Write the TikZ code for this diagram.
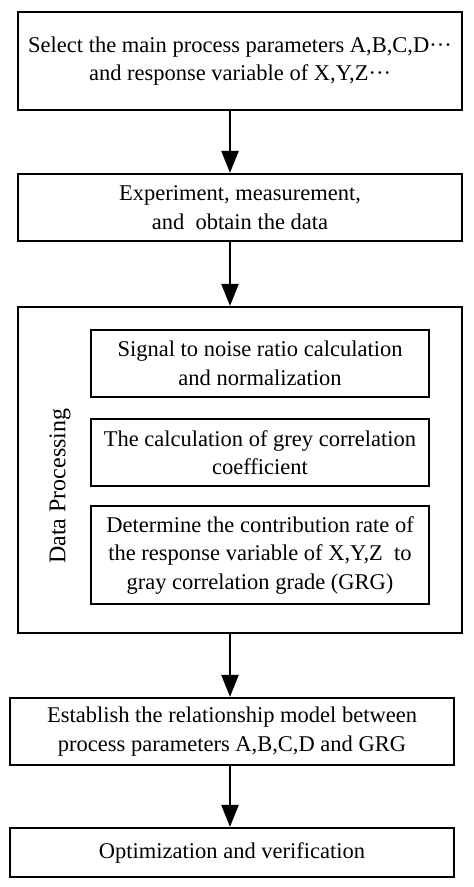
\documentclass[tikz,border=0pt]{standalone}
\usepackage{fontspec}
\setmainfont{Liberation Serif}
\usetikzlibrary{arrows.meta}
\begin{document}
\begin{tikzpicture}[x=1pt,y=-1pt,
  box/.style={draw,line width=2.2pt,align=center,inner sep=0pt,
    font=\fontsize{22.5}{28.5}\selectfont},
  inbox/.style={box,line width=2pt},
  arr/.style={line width=2.4pt,-{Triangle[length=22pt,width=17pt]}}]
\useasboundingbox (0,0) rectangle (474,887);
\node[box,minimum width=444pt,minimum height=98pt] (b1) at (240,61)
  {Select the main process parameters A,B,C,D···\\and response variable of X,Y,Z···};
\node[box,minimum width=444pt,minimum height=67pt] (b2) at (240,207.5)
  {Experiment, measurement,\\and\ \ obtain the data};
\node[box,minimum width=444pt,minimum height=326pt] (b3) at (240,470) {};
\node[inbox,minimum width=338pt,minimum height=67pt] (ia) at (260,363.5)
  {Signal to noise ratio calculation\\and normalization};
\node[inbox,minimum width=338pt,minimum height=67pt] (ib) at (260,452.5)
  {The calculation of grey correlation\\coefficient};
\node[inbox,minimum width=338pt,minimum height=98pt] (ic) at (260,555)
  {Determine the contribution rate of\\the response variable of X,Y,Z\ \ to\\gray correlation grade (GRG)};
\node[rotate=90,font=\fontsize{24}{28}\selectfont] (lab) at (60,486) {Data Processing};
\node[box,minimum width=444pt,minimum height=67pt] (b4) at (232,731.5)
  {Establish the relationship model between\\process parameters A,B,C,D and GRG};
\node[box,minimum width=444pt,minimum height=49pt] (b5) at (232,852.5)
  {Optimization and verification};
\coordinate (ax) at (230,0);
\draw[arr] (b1.south -| ax) -- (b2.north -| ax);
\draw[arr] (b2.south -| ax) -- (b3.north -| ax);
\draw[arr] (b3.south -| ax) -- (b4.north -| ax);
\draw[arr] (b4.south -| ax) -- (b5.north -| ax);
\end{tikzpicture}
\end{document}
